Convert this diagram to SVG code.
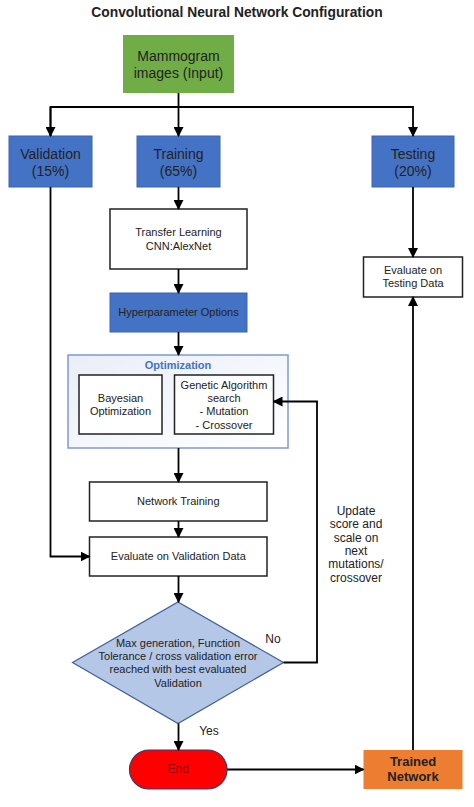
<svg xmlns="http://www.w3.org/2000/svg" width="474" height="807" viewBox="0 0 474 807">
<defs>
<marker id="ah" markerWidth="10" markerHeight="10" refX="9" refY="5" orient="auto" markerUnits="userSpaceOnUse">
<path d="M0,0 L10,5 L0,10 Z" fill="#000"/>
</marker>
<linearGradient id="og" x1="0" y1="0" x2="1" y2="1">
<stop offset="0" stop-color="#e9eef8"/>
<stop offset="1" stop-color="#ffffff"/>
</linearGradient>
</defs>
<style>
text{font-family:"Liberation Sans",Arial,sans-serif;fill:#222;text-anchor:middle;dominant-baseline:central}
.blue{fill:#4472C4;stroke:#3A64B0;stroke-width:1}
.wb{fill:#fff;stroke:#222;stroke-width:1.5}
.c{fill:none;stroke:#000;stroke-width:1.8}
.t14{font-size:14px}
.t11{font-size:11px}
.t12{font-size:12px}
</style>
<rect width="474" height="807" fill="#fff"/>
<text x="237" y="12" style="font-size:13.8px;font-weight:bold">Convolutional Neural Network Configuration</text>

<g id="input">
<rect x="123" y="35" width="111" height="58" fill="#70AD47"/>
<text class="t14" x="178.5" y="56">Mammogram</text>
<text class="t14" x="178.5" y="73">images (Input)</text>
</g>
<g id="validation">
<rect class="blue" x="9" y="136" width="83" height="51"/>
<text class="t14" x="50.5" y="154">Validation</text>
<text class="t14" x="50.5" y="171">(15%)</text>
</g>
<g id="training">
<rect class="blue" x="137" y="136" width="83" height="51"/>
<text class="t14" x="178.5" y="154">Training</text>
<text class="t14" x="178.5" y="171">(65%)</text>
</g>
<g id="testing">
<rect class="blue" x="372" y="136" width="82" height="51"/>
<text class="t14" x="413" y="154">Testing</text>
<text class="t14" x="413" y="171">(20%)</text>
</g>
<g id="transfer">
<rect class="wb" x="110" y="209" width="137" height="60"/>
<text class="t11" x="178.5" y="232">Transfer Learning</text>
<text class="t11" x="178.5" y="246">CNN:AlexNet</text>
</g>
<g id="hyper">
<rect class="blue" x="110" y="293" width="137" height="39"/>
<text class="t11" x="178.5" y="312">Hyperparameter Options</text>
</g>
<g id="optimization">
<rect x="68" y="355" width="220" height="93" fill="url(#og)" stroke="#7F9BD0" stroke-width="1.5"/>
<text x="178" y="365" style="font-size:11px;font-weight:bold;fill:#4472C4">Optimization</text>
</g>
<g id="bayesian">
<rect class="wb" x="79" y="375" width="83" height="59"/>
<text class="t11" x="120.5" y="398">Bayesian</text>
<text class="t11" x="120.5" y="411">Optimization</text>
</g>
<g id="genetic">
<rect class="wb" x="174.5" y="375" width="99" height="59"/>
<text class="t11" x="224" y="385">Genetic Algorithm</text>
<text class="t11" x="224" y="398">search</text>
<text class="t11" x="224" y="411">- Mutation</text>
<text class="t11" x="224" y="425">- Crossover</text>
</g>
<g id="evaltest">
<rect class="wb" x="363.5" y="257" width="99" height="40"/>
<text class="t11" x="413" y="270">Evaluate on</text>
<text class="t11" x="413" y="283">Testing Data</text>
</g>
<g id="nettrain">
<rect class="wb" x="89.5" y="482" width="177.5" height="39"/>
<text class="t11" x="178.3" y="501">Network Training</text>
</g>
<g id="evalval">
<rect class="wb" x="89.5" y="537" width="177.5" height="39"/>
<text class="t11" x="178.3" y="556">Evaluate on Validation Data</text>
</g>
<g id="decision">
<polygon points="178,602 283.5,662.5 178,723.5 72.5,662.5" fill="#B4C7E7" stroke="#3F5E9A" stroke-width="1.2"/>
<text class="t11" x="178" y="643">Max generation, Function</text>
<text class="t11" x="178" y="656">Tolerance / cross validation error</text>
<text class="t11" x="178" y="669">reached with best evaluated</text>
<text class="t11" x="178" y="682.5">Validation</text>
</g>
<g id="end">
<rect x="129.5" y="750" width="97.5" height="39" rx="19.5" fill="#FF0000" stroke="#3a3a6a" stroke-width="1.2"/>
<text class="t12" x="178.3" y="769" style="fill:#8B0000">End</text>
</g>
<g id="trained">
<rect x="363.5" y="750" width="99" height="39" fill="#ED7D31"/>
<text x="413" y="761" style="font-size:13px;font-weight:bold">Trained</text>
<text x="413" y="776" style="font-size:13px;font-weight:bold">Network</text>
</g>

<g id="connectors">
<path class="c" d="M178.5,93 V136" marker-end="url(#ah)"/>
<path class="c" d="M50.5,136 V107 H413 V136" marker-end="url(#ah)"/>
<path class="c" d="M50.5,107 V136" marker-end="url(#ah)"/>
<path class="c" d="M178.5,187 V209" marker-end="url(#ah)"/>
<path class="c" d="M178.5,269 V293" marker-end="url(#ah)"/>
<path class="c" d="M178.5,332 V355" marker-end="url(#ah)"/>
<path class="c" d="M178.5,448 V482" marker-end="url(#ah)"/>
<path class="c" d="M178.5,521 V537" marker-end="url(#ah)"/>
<path class="c" d="M178.5,576 V602" marker-end="url(#ah)"/>
<path class="c" d="M178.5,723.5 V750" marker-end="url(#ah)"/>
<path class="c" d="M50.5,187 V556.5 H89.5" marker-end="url(#ah)"/>
<path class="c" d="M413,187 V257" marker-end="url(#ah)"/>
<path class="c" d="M413,750 V297" marker-end="url(#ah)"/>
<path class="c" d="M283.5,662.5 H317 V401.5 H273.5" marker-end="url(#ah)"/>
<path class="c" d="M227,769.5 H363.5" marker-end="url(#ah)"/>
<text class="t12" x="273" y="639">No</text>
<text class="t12" x="209" y="731">Yes</text>
<text class="t12" x="356" y="511">Update</text>
<text class="t12" x="356" y="524">score and</text>
<text class="t12" x="356" y="537.5">scale on</text>
<text class="t12" x="356" y="551">next</text>
<text class="t12" x="356" y="564">mutations/</text>
<text class="t12" x="356" y="577.5">crossover</text>
</g>
</svg>
